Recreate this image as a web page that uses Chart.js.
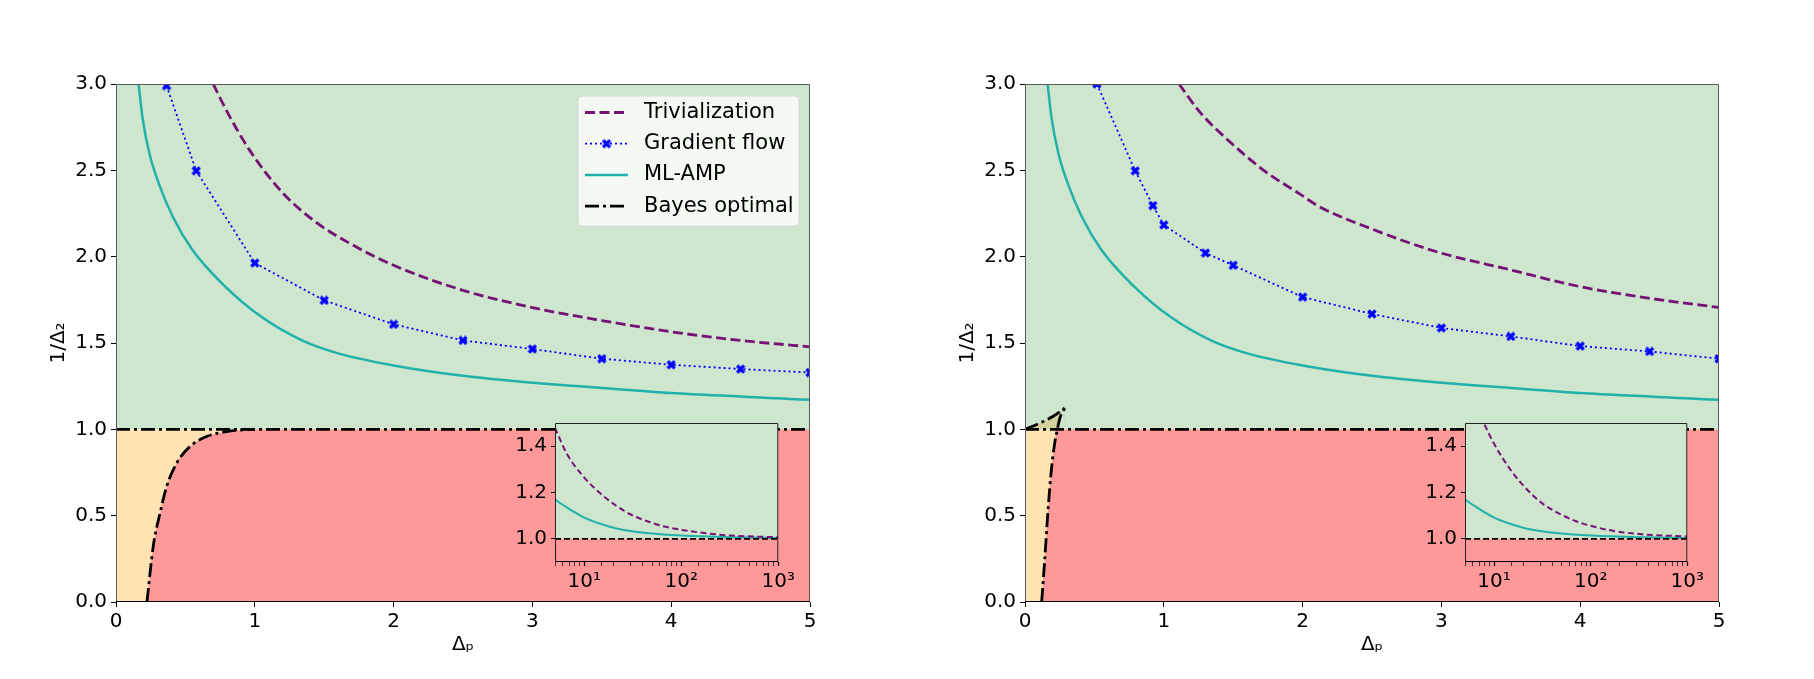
<!DOCTYPE html>
<html>
<head>
<meta charset="utf-8">
<script src="https://cdn.jsdelivr.net/npm/chart.js@4.4.0/dist/chart.umd.min.js"></script>
<style>
body { margin: 0; background: #fff; width: 1814px; height: 679px; position: relative; overflow: hidden; }
canvas { position: absolute; }
</style>
</head>
<body>
<canvas id="mainLeft" width="830" height="679" style="left:0;top:0"></canvas>
<canvas id="mainRight" width="830" height="679" style="left:909px;top:0"></canvas>
<canvas id="insetLeft" width="294" height="193" style="left:505px;top:407px"></canvas>
<canvas id="insetRight" width="293" height="193" style="left:1415px;top:407px"></canvas>
<script>
// ---- data (Delta_p, 1/Delta_2) ----
var trivLeftX = [0.70, 0.80, 0.96, 1.2, 1.44, 1.7, 2.0, 2.5, 3.0, 3.5, 4.0, 4.5, 5.0, 6.6, 9.8, 14.4, 21.4, 31.6, 46.8, 69, 151, 331, 1000];
var trivLeftY = [3.0, 2.84, 2.62, 2.37, 2.20, 2.07, 1.95, 1.805, 1.705, 1.63, 1.565, 1.515, 1.478, 1.368, 1.269, 1.199, 1.143, 1.101, 1.073, 1.052, 1.028, 1.014, 1.007];

var trivRightX = [1.11, 1.257, 1.497, 1.737, 1.976, 2.12, 2.5, 2.98, 3.49, 3.99, 4.49, 5.0, 6.0, 7.91, 10, 14.8, 21.9, 32.3, 47.7, 70.6, 154, 336, 1000];
var trivRightY = [3.0, 2.84, 2.65, 2.49, 2.365, 2.29, 2.16, 2.025, 1.925, 1.828, 1.76, 1.706, 1.61, 1.496, 1.41, 1.298, 1.213, 1.150, 1.108, 1.076, 1.038, 1.020, 1.01];

var gfLeftX = [0.364, 0.578, 1.0, 1.5, 2.0, 2.5, 3.0, 3.5, 4.0, 4.5, 5.0];
var gfLeftY = [2.99, 2.497, 1.963, 1.747, 1.608, 1.515, 1.465, 1.409, 1.374, 1.349, 1.329];

var gfRightX = [0.518, 0.794, 0.921, 1.0, 1.3, 1.5, 2.0, 2.5, 3.0, 3.5, 4.0, 4.5, 5.0];
var gfRightY = [3.0, 2.497, 2.296, 2.184, 2.021, 1.950, 1.766, 1.668, 1.587, 1.538, 1.482, 1.451, 1.409];

var ampX = [0.163, 0.19, 0.24, 0.31, 0.41, 0.55, 0.77, 1.05, 1.34, 1.6, 2.0, 2.5, 3.0, 3.5, 4.0, 4.5, 5.0, 6.6, 9.8, 14.4, 21.4, 46.8, 102, 331, 1000];
var ampY = [3.0, 2.81, 2.60, 2.42, 2.23, 2.04, 1.84, 1.65, 1.515, 1.44, 1.37, 1.31, 1.27, 1.24, 1.21, 1.19, 1.171, 1.136, 1.094, 1.066, 1.045, 1.024, 1.014, 1.007, 1.004];

var bayesLeftX = [0.223, 0.268, 0.317, 0.365, 0.437, 0.532, 0.652, 0.796, 0.916, 1.0];
var bayesLeftY = [0, 0.321, 0.514, 0.669, 0.804, 0.90, 0.958, 0.987, 0.997, 1.0];

var bayesRightX = [0.12, 0.142, 0.166, 0.19, 0.214, 0.233, 0.255, 0.286];
var bayesRightY = [0, 0.243, 0.533, 0.765, 0.92, 1.0, 1.074, 1.123];
var bayesUpperX = [0, 0.106, 0.2, 0.286];
var bayesUpperY = [1.0, 1.036, 1.074, 1.123];

var bayesLineX = [0, 5];
var bayesLineY = [1, 1];
var insetLineX = [5, 1000];
var insetLineY = [1, 1];
var mainTop = 3.0;
var insetTop = 1.5;

var xTicksMain = [0, 1, 2, 3, 4, 5];
var yTicksInset = [1.0, 1.2, 1.4];
var legendLabels = ['Trivialization', 'Gradient flow', 'ML-AMP', 'Bayes optimal'];

var GREEN = '#cee5ce', RED = '#ff9999', ORANGE = '#ffe3b3', OLIVE = '#d3d19e';
var PURPLE = '#761276', BLUE = '#0000ff', TEAL = '#20b2aa';

Chart.defaults.font.family = "'DejaVu Sans', sans-serif";
Chart.defaults.font.size = 20;
Chart.defaults.color = '#000';

function pts(xs, ys) {
    var out = [];
    for (var i = 0; i < xs.length; i++) out.push({x: xs[i], y: ys[i]});
    return out;
}

function makeXMarker(color) {
    var c = document.createElement('canvas');
    c.width = 10; c.height = 10;
    var g = c.getContext('2d');
    g.strokeStyle = color;
    g.lineWidth = 3.2;
    g.beginPath();
    g.moveTo(1.5, 1.5); g.lineTo(8.5, 8.5);
    g.moveTo(8.5, 1.5); g.lineTo(1.5, 8.5);
    g.stroke();
    return c;
}
var xMarker = makeXMarker(BLUE);

function fillSet(data, color, target, order, mono) {
    return {data: data, borderWidth: 0, pointRadius: 0, backgroundColor: color,
            fill: target, order: order, clip: 0,
            cubicInterpolationMode: mono ? 'monotone' : 'default'};
}

function curve(data, color, width, dash, order, extra) {
    var d = {data: data, borderColor: color, borderWidth: width, borderDash: dash,
             pointRadius: 0, fill: false, order: order, clip: 0,
             cubicInterpolationMode: 'monotone'};
    for (var k in extra) d[k] = extra[k];
    return d;
}

// frame round the plot area
var framePlugin = {
    id: 'frame',
    afterDraw: function (chart, args, opts) {
        var a = chart.chartArea, ctx = chart.ctx;
        ctx.save();
        ctx.lineWidth = 1;
        ctx.strokeStyle = opts.color;
        ctx.beginPath();
        ctx.moveTo(a.left + 0.5, a.bottom); ctx.lineTo(a.left + 0.5, a.top + 0.5);
        ctx.lineTo(a.right - 0.5, a.top + 0.5); ctx.lineTo(a.right - 0.5, a.bottom);
        ctx.stroke();
        ctx.strokeStyle = '#000';
        ctx.beginPath();
        ctx.moveTo(a.left, a.bottom - 0.5); ctx.lineTo(a.right, a.bottom - 0.5);
        ctx.stroke();
        ctx.restore();
    }
};

// matplotlib-like legend box inside the plot
var boxLegend = {
    id: 'boxLegend',
    afterDraw: function (chart, args, opts) {
        if (!opts.show) return;
        var ctx = chart.ctx, area = chart.chartArea;
        var items = [];
        legendLabels.forEach(function (lab) {
            chart.data.datasets.forEach(function (d) { if (d.label === lab) items.push(d); });
        });
        var w = 221, h = 130, rowH = 31.2;
        var left = area.right - 11 - w, top = area.top + 12;
        ctx.save();
        ctx.beginPath();
        ctx.roundRect(left, top, w, h, 4);
        ctx.fillStyle = 'rgba(255,255,255,0.78)';
        ctx.fill();
        ctx.strokeStyle = '#d8d8d8';
        ctx.lineWidth = 1;
        ctx.stroke();
        ctx.font = "21px 'DejaVu Sans'";
        ctx.textBaseline = 'middle';
        items.forEach(function (d, i) {
            var y = top + 16.5 + i * rowH;
            ctx.beginPath();
            ctx.setLineDash(d.borderDash || []);
            ctx.strokeStyle = d.borderColor;
            ctx.lineWidth = d.borderWidth;
            ctx.moveTo(left + 7, y); ctx.lineTo(left + 50, y);
            ctx.stroke();
            ctx.setLineDash([]);
            if (d.pointStyle && typeof d.pointStyle === 'object') {
                ctx.drawImage(d.pointStyle, left + 28.5 - 5, y - 5);
            }
            ctx.fillStyle = '#000';
            ctx.fillText(d.label, left + 66, y);
        });
        ctx.restore();
    }
};

function mainOptions(showLegend) {
    return {
        responsive: false,
        animation: false,
        layout: {padding: {top: 84, right: 20, left: 0, bottom: 0}},
        plugins: {
            legend: {display: false},
            tooltip: {enabled: false},
            boxLegend: {show: showLegend},
            frame: {color: '#5a5a5a'}
        },
        scales: {
            x: {
                type: 'linear', min: 0, max: 5,
                border: {display: false},
                grid: {drawOnChartArea: false, drawTicks: true, tickLength: 5, color: '#000'},
                ticks: {padding: 3, maxRotation: 0, autoSkip: false},
                afterBuildTicks: function (s) { s.ticks = xTicksMain.map(function (v) { return {value: v}; }); },
                title: {display: true, text: 'Δₚ', padding: {top: 0, bottom: 22}},
                afterFit: function (s) { s.height = 77; }
            },
            y: {
                type: 'linear', min: 0, max: mainTop,
                border: {display: false},
                grid: {drawOnChartArea: false, drawTicks: true, tickLength: 5, color: '#000'},
                ticks: {stepSize: 0.5, padding: 4, callback: function (v) { return Number(v).toFixed(1); }},
                title: {display: true, text: '1/Δ₂', padding: {top: 47, bottom: 0}},
                afterFit: function (s) { s.width = 116; }
            }
        }
    };
}

function insetOptions() {
    return {
        responsive: false,
        animation: false,
        layout: {padding: {top: 14, right: 20, left: 0, bottom: 0}},
        plugins: {legend: {display: false}, tooltip: {enabled: false}, frame: {color: '#222'}},
        scales: {
            x: {
                type: 'logarithmic', min: 5, max: 1000,
                border: {display: false},
                grid: {
                    drawOnChartArea: false, drawTicks: true, tickLength: 4, tickColor: '#000',
                    tickWidth: function (c) {
                        var v = c.tick ? c.tick.value : 1, l = Math.log10(v);
                        return Math.abs(l - Math.round(l)) < 1e-9 ? 1.2 : 0.7;
                    }
                },
                ticks: {
                    padding: 4, maxRotation: 0, autoSkip: false,
                    callback: function (v) {
                        var l = Math.log10(v);
                        if (Math.abs(l - Math.round(l)) > 1e-9) return '';
                        return '10' + ['⁰', '¹', '²', '³'][Math.round(l)];
                    }
                },
                afterFit: function (s) { s.height = 38; }
            },
            y: {
                type: 'linear', min: 0.9, max: insetTop,
                border: {display: false},
                grid: {drawOnChartArea: false, drawTicks: true, tickLength: 4, color: '#000'},
                ticks: {padding: 4, callback: function (v) { return Number(v).toFixed(1); }},
                afterBuildTicks: function (s) { s.ticks = yTicksInset.map(function (v) { return {value: v}; }); },
                afterFit: function (s) { s.width = 50; }
            }
        }
    };
}

// ---------- left main ----------
var redLeft = pts(bayesLeftX, bayesLeftY).concat([{x: bayesLineX[1], y: bayesLineY[1]}]);
new Chart(document.getElementById('mainLeft'), {
    type: 'line',
    data: {datasets: [
        fillSet(pts(bayesLineX, bayesLineY), ORANGE, 'origin', 20, false),
        fillSet(redLeft, RED, 'origin', 19, true),
        fillSet(pts(bayesLineX, [mainTop, mainTop]), GREEN, {value: 1}, 18, false),
        curve(pts(ampX, ampY), TEAL, 2.5, [], 4, {label: 'ML-AMP'}),
        curve(pts(gfLeftX, gfLeftY), BLUE, 1.8, [2, 3], 3,
              {label: 'Gradient flow', cubicInterpolationMode: 'default', tension: 0, pointStyle: xMarker, pointRadius: 5}),
        curve(pts(trivLeftX, trivLeftY), PURPLE, 2.8, [10, 4.5], 2, {label: 'Trivialization'}),
        curve(pts(bayesLeftX, bayesLeftY), '#000', 2.8, [14, 4, 3, 4], 1, {label: 'Bayes optimal'}),
        curve(pts(bayesLineX, bayesLineY), '#000', 2.8, [14, 4, 3, 4], 1, {})
    ]},
    options: mainOptions(true),
    plugins: [framePlugin, boxLegend]
});

// ---------- right main ----------
var lowerAbove = pts(bayesRightX, bayesRightY).filter(function (p) { return p.y >= 1; });
var redRight = pts(bayesRightX, bayesRightY).filter(function (p) { return p.y <= 1; })
    .concat([{x: bayesLineX[1], y: bayesLineY[1]}]);
new Chart(document.getElementById('mainRight'), {
    type: 'line',
    data: {datasets: [
        fillSet(pts(bayesLineX, bayesLineY), ORANGE, 'origin', 20, false),
        fillSet(redRight, RED, 'origin', 19, true),
        fillSet(pts(bayesLineX, [mainTop, mainTop]), GREEN, {value: 1}, 18, false),
        fillSet(pts(bayesUpperX, bayesUpperY), OLIVE, {value: 1}, 17, true),
        fillSet(lowerAbove, GREEN, {value: 1}, 16, true),
        curve(pts(ampX, ampY), TEAL, 2.5, [], 4, {label: 'ML-AMP'}),
        curve(pts(gfRightX, gfRightY), BLUE, 1.8, [2, 3], 3,
              {label: 'Gradient flow', cubicInterpolationMode: 'default', tension: 0, pointStyle: xMarker, pointRadius: 5}),
        curve(pts(trivRightX, trivRightY), PURPLE, 2.8, [10, 4.5], 2, {label: 'Trivialization'}),
        curve(pts(bayesRightX, bayesRightY), '#000', 2.8, [14, 4, 3, 4], 1, {label: 'Bayes optimal'}),
        curve(pts(bayesUpperX, bayesUpperY), '#000', 2.8, [14, 4, 3, 4], 1, {}),
        curve(pts(bayesLineX, bayesLineY), '#000', 2.8, [14, 4, 3, 4], 1, {})
    ]},
    options: mainOptions(false),
    plugins: [framePlugin, boxLegend]
});

// ---------- insets ----------
function insetChart(id, trivX, trivY) {
    new Chart(document.getElementById(id), {
        type: 'line',
        data: {datasets: [
            fillSet(pts(insetLineX, insetLineY), RED, 'start', 20, false),
            fillSet(pts(insetLineX, [insetTop, insetTop]), GREEN, {value: 1}, 19, false),
            curve(pts(ampX, ampY), TEAL, 2, [], 3, {}),
            curve(pts(trivX, trivY), PURPLE, 2, [6, 3.5], 2, {}),
            curve(pts(insetLineX, insetLineY), '#000', 1.8, [6, 3], 1, {})
        ]},
        options: insetOptions(),
        plugins: [framePlugin]
    });
}
insetChart('insetLeft', trivLeftX, trivLeftY);
insetChart('insetRight', trivRightX, trivRightY);
</script>
</body>
</html>
